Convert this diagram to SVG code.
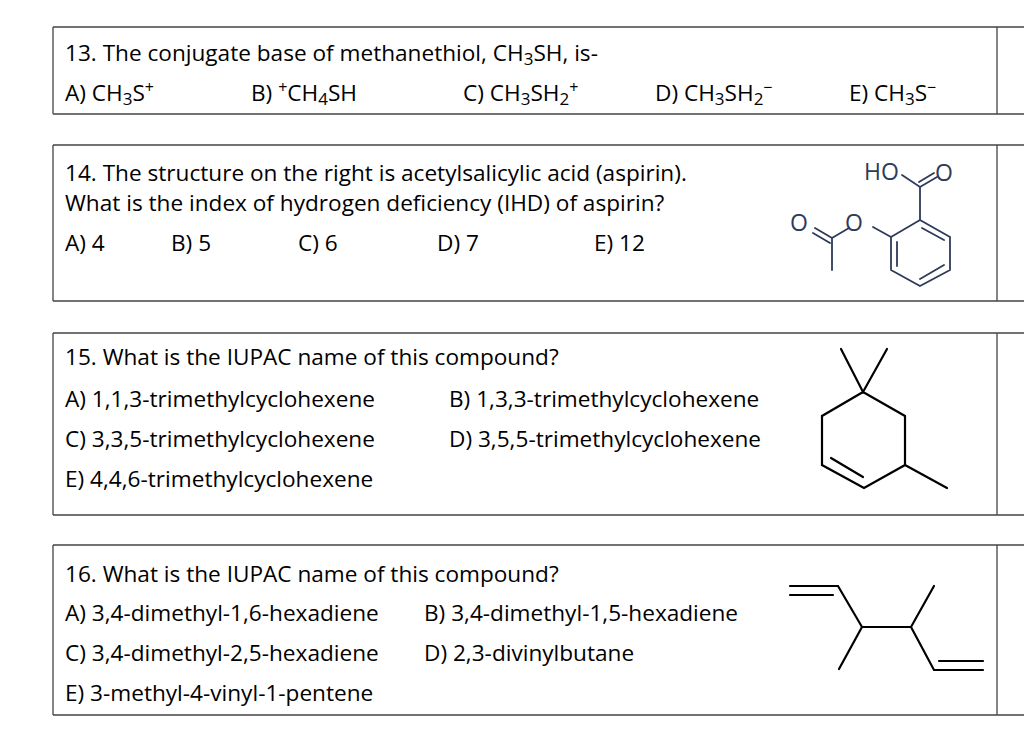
<svg xmlns="http://www.w3.org/2000/svg" width="1024" height="737" viewBox="0 0 1024 737">
<style>
text{font-family:"Open Sans","Liberation Sans",sans-serif;font-size:22.6px;fill:#000}
.box{fill:none;stroke:#444;stroke-width:1.3}
.m{fill:none;stroke:#000;stroke-width:2.2;stroke-linecap:round}
.a{fill:none;stroke:#2e3a59;stroke-width:1.8;stroke-linecap:round}
text.at{fill:#2e3a59;font-size:23px}
</style>
<rect width="1024" height="737" fill="#fff"/>
<path class="box" d="M53 27H1024M53 114H1024M53 27V114M997 27V114"/>
<path class="box" d="M53 145H1024M53 301H1024M53 145V301M997 145V301"/>
<path class="box" d="M53 333H1024M53 515H1024M53 333V515M997 333V515"/>
<path class="box" d="M53 545H1024M53 715H1024M53 545V715M997 545V715"/>
<text x="65" y="61">13. The conjugate base of methanethiol, CH<tspan font-size="17" dy="4">3</tspan><tspan dy="-4">SH, is-</tspan></text>
<text x="65" y="101">A) CH<tspan font-size="17" dy="4">3</tspan><tspan dy="-4">S</tspan><tspan font-size="16" dy="-8">+</tspan></text>
<text x="251" y="101">B) <tspan font-size="16" dy="-8">+</tspan><tspan dy="8">CH</tspan><tspan font-size="17" dy="4">4</tspan><tspan dy="-4">SH</tspan></text>
<text x="463" y="101">C) CH<tspan font-size="17" dy="4">3</tspan><tspan dy="-4">SH</tspan><tspan font-size="17" dy="4">2</tspan><tspan font-size="16" dy="-12">+</tspan></text>
<text x="655" y="101">D) CH<tspan font-size="17" dy="4">3</tspan><tspan dy="-4">SH</tspan><tspan font-size="17" dy="4">2</tspan><tspan font-size="16" dy="-12">−</tspan></text>
<text x="849" y="101">E)  CH<tspan font-size="17" dy="4">3</tspan><tspan dy="-4">S</tspan><tspan font-size="16" dy="-8">−</tspan></text>
<text x="65" y="181">14. The structure on the right is acetylsalicylic acid (aspirin).</text>
<text x="65" y="211">What is the index of hydrogen deficiency (IHD) of aspirin?</text>
<text x="65" y="251">A) 4</text><text x="171" y="251">B) 5</text><text x="298" y="251">C) 6</text><text x="437" y="251">D) 7</text><text x="594" y="251">E) 12</text>
<g>
<text class="at" x="864" y="180">HO</text><text class="at" x="935" y="181">O</text>
<text class="at" x="845" y="231">O</text><text class="at" x="790" y="231">O</text>
<path class="a" d="M902 175L920 187L937 177M920 187V220L950 237V270L920 286L891 270V237L920 220M919 182L934 173M897 242V266M920 279L944 265M922 228L944 240M891 237L873 227M849 228L832 238V270M832 238L815 228M830 243L813 233"/>
</g>
<text x="65" y="365">15. What is the IUPAC name of this compound?</text>
<text x="65" y="407">A) 1,1,3-trimethylcyclohexene</text><text x="449" y="407">B) 1,3,3-trimethylcyclohexene</text>
<text x="65" y="447">C) 3,3,5-trimethylcyclohexene</text><text x="449" y="447">D) 3,5,5-trimethylcyclohexene</text>
<text x="65" y="487">E) 4,4,6-trimethylcyclohexene</text>
<path class="m" d="M841 349L863 392L887 349M863 392L905 416V465L864 488L822 465V416L863 392M831 458L863 477M905 465L947 488"/>
<text x="65" y="582">16. What is the IUPAC name of this compound?</text>
<text x="65" y="621">A) 3,4-dimethyl-1,6-hexadiene</text><text x="424" y="621">B) 3,4-dimethyl-1,5-hexadiene</text>
<text x="65" y="661">C) 3,4-dimethyl-2,5-hexadiene</text><text x="424" y="661">D) 2,3-divinylbutane</text>
<text x="65" y="701">E)  3-methyl-4-vinyl-1-pentene</text>
<path class="m" d="M790 586H838L862 627H911L934 586M862 627L839 669M911 627L934 670H983M790 595H833M939 661H983"/>
</svg>
